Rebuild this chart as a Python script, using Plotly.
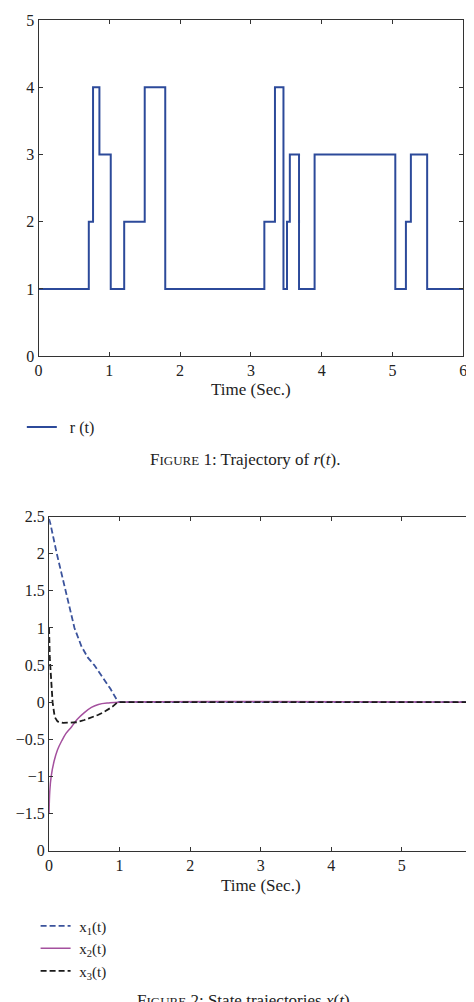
import plotly.graph_objects as go

W, H = 474, 1002

# Figure 1: switching signal r(t) (switch times and mode values)
r_times = [0, 0.71, 0.77, 0.86, 1.02, 1.21, 1.50, 1.79, 3.19, 3.34, 3.46,
           3.51, 3.55, 3.68, 3.90, 5.04, 5.19, 5.26, 5.49, 6.0]
r_values = [1, 2, 4, 3, 1, 2, 4, 1, 2, 4, 1, 2, 3, 1, 3, 1, 2, 3, 1, 1]

# Figure 2: state trajectories
x1_t = [0, 0.02, 0.11, 0.24, 0.36, 0.46, 0.55, 0.64, 0.75, 0.87, 0.98, 6.0]
x1_v = [2.47, 2.4, 2.0, 1.5, 1.0, 0.75, 0.6, 0.5, 0.35, 0.18, 0.0, 0.0]

x2_t = [0, 0.01, 0.03, 0.07, 0.12, 0.18, 0.24, 0.32, 0.40, 0.5, 0.6, 0.7, 0.85, 1.0, 6.0]
x2_v = [-1.5, -1.2, -1.0, -0.8, -0.64, -0.52, -0.42, -0.33, -0.23, -0.14,
        -0.07, -0.03, -0.01, 0.0, 0.0]

x3_t = [0, 0.01, 0.03, 0.05, 0.08, 0.12, 0.2, 0.3, 0.4, 0.5, 0.6, 0.7, 0.8, 0.9, 0.97, 6.0]
x3_v = [1.0, 0.6, 0.3, 0.0, -0.2, -0.26, -0.28, -0.28, -0.27, -0.24, -0.21,
        -0.17, -0.12, -0.06, 0.0, 0.0]

y2_ticks = [2.5, 2, 1.5, 1, 0.5, 0, -0.5, -1, -1.5, -2]
y2_labels = ["2.5", "2", "1.5", "1", "0.5", "0", "\u22120.5", "\u22121", "\u22121.5", "0"]

FONT = "Liberation Serif"
AX = "#333333"
NB = "\u00a0"


def px_x(p):
    return p / W


def px_y(p):
    return 1 - p / H


fig = go.Figure()

fig.add_trace(go.Scatter(
    x=r_times, y=r_values, mode="lines", line_shape="hv",
    line=dict(color="#2c4a9a", width=2), name=NB * 2 + "r (t)", showlegend=True,
    xaxis="x", yaxis="y", legend="legend"))

fig.add_trace(go.Scatter(
    x=x1_t, y=x1_v, mode="lines", line=dict(color="#3b539c", width=1.8, dash="6px,3px"),
    name=NB + "x<sub>1</sub>(t)", xaxis="x2", yaxis="y2", legend="legend2"))
fig.add_trace(go.Scatter(
    x=x2_t, y=x2_v, mode="lines", line=dict(color="#a4509e", width=1.5, shape="spline"),
    name=NB + "x<sub>2</sub>(t)", xaxis="x2", yaxis="y2", legend="legend2"))
fig.add_trace(go.Scatter(
    x=x3_t, y=x3_v, mode="lines", line=dict(color="#1a1a1a", width=1.8, dash="6px,3px"),
    name=NB + "x<sub>3</sub>(t)", xaxis="x2", yaxis="y2", legend="legend2"))

axis_common = dict(showgrid=False, zeroline=False, showline=True, linecolor=AX,
                   linewidth=1, mirror="ticks", ticks="inside", ticklen=4,
                   tickcolor=AX, tickfont=dict(family=FONT, size=16, color="#222"))

fig.update_layout(
    width=W, height=H, margin=dict(l=0, r=0, t=0, b=0),
    paper_bgcolor="white", plot_bgcolor="white", showlegend=True,
    font=dict(family=FONT, size=16, color="#222"),
    xaxis=dict(axis_common, domain=[px_x(27), px_x(459)], range=[0, 6],
               tickvals=[0, 1, 2, 3, 4, 5, 6], anchor="y",
               title=dict(text="Time (Sec.)", standoff=4,
                          font=dict(family=FONT, size=17))),
    yaxis=dict(axis_common, domain=[px_y(346), px_y(4)], range=[0, 5],
               tickvals=[0, 1, 2, 3, 4, 5], anchor="x"),
    xaxis2=dict(axis_common, domain=[px_x(37.7), px_x(468.3)], range=[0, 6],
                tickvals=[0, 1, 2, 3, 4, 5, 6], anchor="y2",
                title=dict(text="Time (Sec.)", standoff=6,
                           font=dict(family=FONT, size=17))),
    yaxis2=dict(axis_common, domain=[px_y(849), px_y(509.3)], range=[-2, 2.5],
                tickvals=y2_ticks, ticktext=y2_labels, anchor="x2"),
    legend=dict(x=px_x(10), y=px_y(401), xanchor="left", yanchor="top",
                bgcolor="rgba(0,0,0,0)", font=dict(family=FONT, size=16)),
    legend2=dict(x=px_x(24), y=px_y(909), xanchor="left", yanchor="top",
                 bgcolor="rgba(0,0,0,0)", tracegroupgap=0,
                 font=dict(family=FONT, size=15)),
    annotations=[
        dict(text="F<span style='font-size:13px'>IGURE</span> 1: Trajectory of <i>r</i>(<i>t</i>).",
             x=0.5, y=px_y(451), xref="paper", yref="paper", showarrow=False,
             font=dict(family=FONT, size=17, color="#222")),
        dict(text="F<span style='font-size:13px'>IGURE</span> 2: State trajectories <i>x</i>(<i>t</i>).",
             x=0.5, y=px_y(1013), xref="paper", yref="paper", showarrow=False,
             font=dict(family=FONT, size=17, color="#222")),
    ],
)

fig.write_html("out.html")
